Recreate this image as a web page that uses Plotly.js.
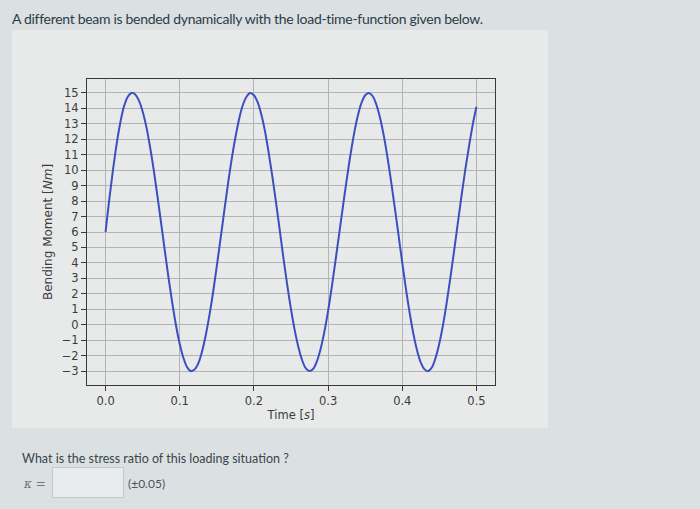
<!DOCTYPE html>
<html>
<head>
<meta charset="utf-8">
<script src="https://cdn.plot.ly/plotly-3.0.1.min.js"></script>
<style>
    body { margin: 0; width: 700px; height: 509px; background: #dbe1e2; overflow: hidden; font-family: Lato, "Open Sans", sans-serif; }
    #panel { position: absolute; left: 12px; top: 30px; width: 536px; height: 398px; background: #e8eaea; }
    #plot { position: absolute; left: 0; top: 0; width: 700px; height: 509px; }
    .txt { position: absolute; color: #2d3b45; white-space: nowrap; }
    #heading { left: 12px; top: 10px; font-size: 14px; letter-spacing: -0.3px; }
    #question { left: 22px; top: 451px; font-size: 12.5px; color: #3a454d; }
    #kappa { left: 24px; top: 477px; font-size: 12px; color: #6b757c; font-family: "DejaVu Serif", serif; font-style: italic; }
    #answer { position: absolute; left: 52px; top: 467px; width: 70px; height: 29px; border: 1px solid #c3c9cc; background: #e9ecec; }
    #tol { left: 128px; top: 476px; font-size: 12px; color: #4a555c; }
</style>
</head>
<body>
<div id="panel"></div>
<div id="plot"></div>
<div class="txt" id="heading">A different beam is bended dynamically with the load-time-function given below.</div>
<div class="txt" id="question">What is the stress ratio of this loading situation ?</div>
<div class="txt" id="kappa">κ =</div>
<div id="answer"></div>
<div class="txt" id="tol">(±0.05)</div>
<script>
    // Load-time function, one value every 5 ms
    const timeStep = 0.005;
    const moment = [
        6.00, 8.10, 10.00, 11.70, 13.10, 14.15, 14.75, 15.00, 14.90, 14.50,
        13.80, 12.80, 11.50, 10.00, 8.30, 6.55, 4.75, 3.00, 1.40, -0.05,
        -1.25, -2.15, -2.75, -3.00, -2.90, -2.50, -1.75, -0.70, 0.60, 2.10,
        3.80, 5.55, 7.35, 9.10, 10.70, 12.10, 13.30, 14.20, 14.75, 15.00,
        14.85, 14.40, 13.60, 12.50, 11.10, 9.55, 7.85, 6.05, 4.25, 2.55,
        1.00, -0.35, -1.45, -2.30, -2.82, -3.00, -2.85, -2.35, -1.55, -0.45,
        0.90, 2.45, 4.15, 5.90, 7.65, 9.35, 10.95, 12.35, 13.50, 14.35,
        14.85, 15.00, 14.80, 14.25, 13.40, 12.25, 10.85, 9.25, 7.55, 5.78,
        4.00, 2.31, 0.76, -0.59, -1.67, -2.45, -2.89, -3.00, -2.75, -2.13,
        -1.20, 0.01, 1.46, 3.09, 4.83, 6.62, 8.38, 10.05, 11.56, 12.95,
        14.10
    ];
    const time = moment.map((_, i) => +(i * timeStep).toFixed(3));

    const xTickVals = [0.0, 0.1, 0.2, 0.3, 0.4, 0.5];
    const xTickText = ['0.0', '0.1', '0.2', '0.3', '0.4', '0.5'];
    const yTickVals = [-3, -2, -1, 0, 1, 2, 3, 4, 5, 6, 7, 8, 9, 10, 11, 12, 13, 14, 15];

    const trace = {
        x: time,
        y: moment,
        type: 'scatter',
        mode: 'lines',
        line: { color: '#3b4fbf', width: 2, shape: 'spline' },
        hoverinfo: 'skip'
    };

    const axisStyle = {
        showline: true,
        mirror: true,
        linecolor: '#3a3a3a',
        linewidth: 1,
        showgrid: true,
        gridcolor: '#b2b4b4',
        gridwidth: 1,
        zeroline: false,
        ticks: 'outside',
        ticklen: 5,
        tickcolor: '#3a3a3a',
        tickangle: 0,
        tickfont: { family: 'DejaVu Sans', size: 11.5, color: '#3c3c3c' }
    };

    const layout = {
        width: 700,
        height: 509,
        margin: { l: 87, r: 205, t: 79, b: 124 },
        paper_bgcolor: 'rgba(0,0,0,0)',
        plot_bgcolor: '#e8eaea',
        showlegend: false,
        xaxis: Object.assign({}, axisStyle, {
            range: [-0.025, 0.525],
            tickmode: 'array',
            tickvals: xTickVals,
            ticktext: xTickText,
            title: { text: 'Time [<i>s</i>]', standoff: 4, font: { family: 'DejaVu Sans', size: 11.5, color: '#3c3c3c' } }
        }),
        yaxis: Object.assign({}, axisStyle, {
            range: [-3.9, 15.9],
            tickmode: 'array',
            tickvals: yTickVals,
            title: { text: 'Bending Moment [<i>Nm</i>]', standoff: 6, font: { family: 'DejaVu Sans', size: 12, color: '#3c3c3c' } }
        })
    };

    Plotly.newPlot('plot', [trace], layout, { displayModeBar: false, staticPlot: true });
</script>
</body>
</html>
